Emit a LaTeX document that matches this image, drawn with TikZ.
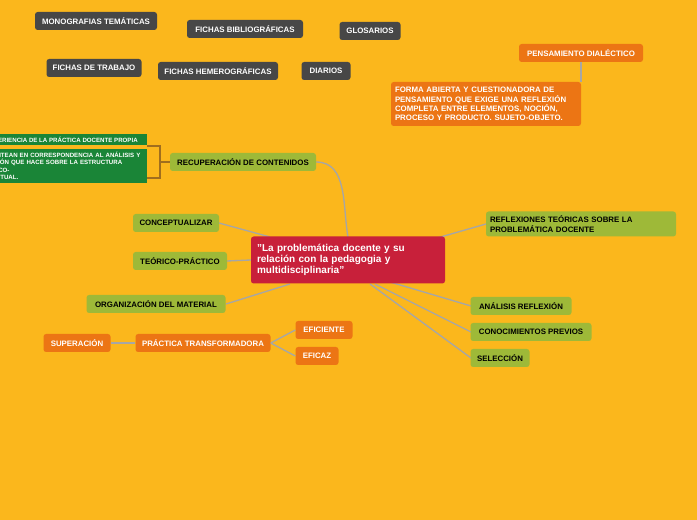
\documentclass[tikz,border=0pt]{standalone}
\usepackage{fontspec}
\setmainfont{Liberation Sans}
\begin{document}
\begin{tikzpicture}[x=0.75pt,y=-0.75pt,
 box/.style={rounded corners=2pt,font=\bfseries\fontsize{5.9}{7}\selectfont,inner sep=2pt,anchor=center},
 gray/.style={box,fill=black!72,text=white},
 olive/.style={box,text=black,fill={rgb,255:red,158;green,185;blue,56}},
 org/.style={box,fill={rgb,255:red,236;green,117;blue,20},text=white},
 grn/.style={box,fill={rgb,255:red,26;green,133;blue,55},text=white,rounded corners=0pt,font=\bfseries\fontsize{4.6}{5.6}\selectfont},
 link/.style={draw=black!35,line width=1pt}]
\fill[fill={rgb,255:red,251;green,183;blue,28}] (0,0) rectangle (697,520);
\useasboundingbox (0,0) rectangle (697,520);
\draw[draw={rgb,255:red,160;green,110;blue,30},line width=0.8pt] (170,162) -- (160,162) (147,146) -| (160,178) -- (147,178);
\draw[link] (316,162) to[out=0,in=100] (348,237);
\draw[link] (219,223) -- (270,237);
\draw[link] (227,261) -- (251,260);
\draw[link] (226,304) -- (290,284);
\draw[link] (486,224) -- (430,240);
\draw[link] (471,306) -- (390,282);
\draw[link] (471,332) -- (375,284);
\draw[link] (471,358) -- (370,284);
\begin{scope}
\clip (0,0) rectangle (697,520);
\node[gray,minimum width=122*0.75pt,minimum height=18*0.75pt] (mono) at (96,21) {MONOGRAFIAS TEMÁTICAS};
\node[gray,minimum width=116*0.75pt,minimum height=18*0.75pt] (bib) at (245,29) {FICHAS BIBLIOGRÁFICAS};
\node[gray,minimum width=61*0.75pt,minimum height=18*0.75pt] (glo) at (370,31) {GLOSARIOS};
\node[gray,minimum width=95*0.75pt,minimum height=18*0.75pt] (trab) at (94,68) {FICHAS DE TRABAJO};
\node[gray,minimum width=120*0.75pt,minimum height=18*0.75pt] (hem) at (218,71) {FICHAS HEMEROGRÁFICAS};
\node[gray,minimum width=49*0.75pt,minimum height=18*0.75pt] (dia) at (326,71) {DIARIOS};
\node[org,minimum width=124*0.75pt,minimum height=18*0.75pt] (pd) at (581,53) {PENSAMIENTO DIALÉCTICO};
\draw[link] (pd.south) -- (581,82);
\node[org,minimum width=190*0.75pt,minimum height=44*0.75pt,align=left,text width=182*0.75pt] (forma) at (486,104) {FORMA ABIERTA Y CUESTIONADORA DE\\ PENSAMIENTO QUE EXIGE UNA REFLEXIÓN\\ COMPLETA ENTRE ELEMENTOS, NOCIÓN,\\ PROCESO Y PRODUCTO. SUJETO-OBJETO.};
\node[box,fill={rgb,255:red,200;green,32;blue,58},text=white,minimum width=194*0.75pt,minimum height=47*0.75pt,align=left,text width=182*0.75pt,font=\bfseries\fontsize{7.5}{8.5}\selectfont] (c) at (348,260) {"La problemática docente y su\\ relación con la pedagogia y\\ multidisciplinaria"};
\node[olive,minimum width=146*0.75pt,minimum height=18*0.75pt] (rec) at (243,162) {RECUPERACIÓN DE CONTENIDOS};
\node[olive,minimum width=86*0.75pt,minimum height=18*0.75pt] (con) at (176,223) {CONCEPTUALIZAR};
\node[olive,minimum width=94*0.75pt,minimum height=18*0.75pt] (teo) at (180,261) {TEÓRICO-PRÁCTICO};
\node[olive,minimum width=139*0.75pt,minimum height=18*0.75pt] (orgm) at (156,304) {ORGANIZACIÓN DEL MATERIAL};
\node[olive,minimum width=190*0.75pt,minimum height=25*0.75pt,align=left,text width=182*0.75pt] (refl) at (581,224) {REFLEXIONES TEÓRICAS SOBRE LA\\ PROBLEMÁTICA DOCENTE};
\node[olive,minimum width=101*0.75pt,minimum height=18*0.75pt] (ana) at (521,306) {ANÁLISIS REFLEXIÓN};
\node[olive,minimum width=121*0.75pt,minimum height=18*0.75pt] (prev) at (531,332) {CONOCIMIENTOS PREVIOS};
\node[olive,minimum width=59*0.75pt,minimum height=18*0.75pt] (sel) at (500,358) {SELECCIÓN};
\node[org,minimum width=135*0.75pt,minimum height=18*0.75pt] (pt) at (203,343) {PRÁCTICA TRANSFORMADORA};
\node[org,minimum width=67*0.75pt,minimum height=18*0.75pt] (sup) at (77,343) {SUPERACIÓN};
\node[org,minimum width=57*0.75pt,minimum height=18*0.75pt] (efi) at (324,330) {EFICIENTE};
\node[org,minimum width=43*0.75pt,minimum height=18*0.75pt] (efz) at (317,356) {EFICAZ};
\node[grn,minimum width=170*0.75pt,minimum height=11*0.75pt,anchor=east] (g1) at (147,140) {EXPERIENCIA DE LA PRÁCTICA DOCENTE PROPIA};
\node[grn,minimum width=175*0.75pt,minimum height=25*0.75pt,anchor=east,align=left,text width=170*0.75pt] (g2) at (147,166) {SE PLANTEAN EN CORRESPONDENCIA AL ANÁLISIS Y\\ REFLEXIÓN QUE HACE SOBRE LA ESTRUCTURA ANALÍTICO-\\ CONCEPTUAL.};
\end{scope}
\draw[link] (pt.east) -- (efi.west);
\draw[link] (pt.east) -- (efz.west);
\draw[link] (pt.west) -- (sup.east);
\end{tikzpicture}
\end{document}
